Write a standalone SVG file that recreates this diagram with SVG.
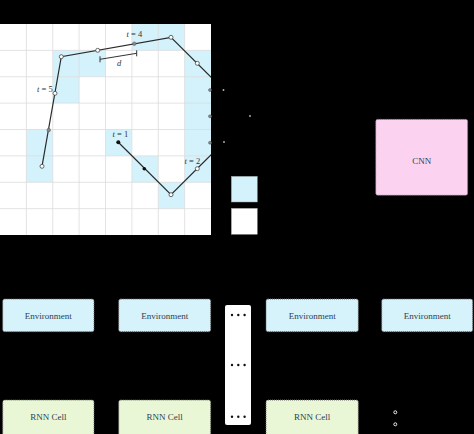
<svg xmlns="http://www.w3.org/2000/svg" width="474" height="434" viewBox="0 0 474 434">
<defs>
<style>
.gl{stroke:#dcdcdc;stroke-width:0.8;fill:none}
.cell{fill:#d4f2fb}
.path{stroke:#2a2a2a;stroke-width:1.2;fill:none}
.open{fill:#fff;stroke:#444;stroke-width:0.8}
.fill{fill:#111}
.gray{fill:#888;stroke:#555;stroke-width:0.5}
.lbl{font-family:"Liberation Serif",serif;font-size:8.5px;fill:#333}
.box{stroke:#666;stroke-width:1;stroke-dasharray:1 1}
.env{fill:#d6f3fc}
.rnn{fill:#e9f7d6}
.btxt{font-family:"Liberation Serif",serif;font-size:9px;fill:#2f3f4f;text-anchor:middle}
</style>
</defs>
<rect width="474" height="434" fill="#000"/>
<g id="grid">
<rect x="0" y="24" width="211" height="211" fill="#fff"/>
<rect class="cell" x="131.875" y="24" width="52.75" height="26.375"/>
<rect class="cell" x="52.75" y="50.375" width="52.75" height="26.375"/>
<rect class="cell" x="52.75" y="76.75" width="26.375" height="26.375"/>
<rect class="cell" x="184.625" y="50.375" width="26.375" height="131.875"/>
<rect class="cell" x="26.375" y="129.5" width="26.375" height="52.75"/>
<rect class="cell" x="105.5" y="129.5" width="26.375" height="26.375"/>
<rect class="cell" x="131.875" y="155.875" width="26.375" height="26.375"/>
<rect class="cell" x="158.25" y="182.25" width="26.375" height="26.375"/>
<path class="gl" d="M26.375 24V235M52.75 24V235M79.125 24V235M105.5 24V235M131.875 24V235M158.25 24V235M184.625 24V235M0 50.375H211M0 76.75H211M0 103.125H211M0 129.5H211M0 155.875H211M0 182.25H211M0 208.625H211"/>
</g>
<g id="trajectory">
<path class="path" d="M118.3 142.3L171 194.7L224 142L224 90L171 37.3L61.3 56.7L42 166.3"/>
<rect x="211" y="60" width="20" height="110" fill="#000"/>
<circle class="fill" cx="118.3" cy="142.3" r="2"/>
<circle class="fill" cx="144.3" cy="168.7" r="1.8"/>
<circle class="open" cx="171" cy="194.7" r="2"/>
<circle class="open" cx="197.3" cy="168.7" r="2"/>
<circle class="open" cx="197.3" cy="63.3" r="2"/>
<circle class="open" cx="171" cy="37.3" r="2"/>
<circle class="gray" cx="134.3" cy="43.7" r="1.8"/>
<circle class="open" cx="97.7" cy="50.3" r="2"/>
<circle class="open" cx="61.3" cy="56.7" r="2"/>
<circle class="open" cx="55" cy="93.3" r="2"/>
<circle class="gray" cx="48.7" cy="130" r="1.8"/>
<circle class="open" cx="42" cy="166.3" r="2"/>
<circle class="gray" cx="210" cy="142.7" r="1.5"/>
<circle class="gray" cx="210" cy="116.3" r="1.5"/>
<circle class="gray" cx="210" cy="90" r="1.5"/>
<circle cx="223.5" cy="90" r="0.9" fill="#bbb"/>
<circle cx="250" cy="116" r="0.9" fill="#bbb"/>
<circle cx="224" cy="142" r="0.9" fill="#bbb"/>
<path d="M100 59.3L136.7 53.3M100 56.3V62.3M136.7 50.3V56.3" stroke="#333" stroke-width="1" fill="none"/>
<text class="lbl" x="117" y="66"><tspan font-style="italic">d</tspan></text>
<text class="lbl" x="126.5" y="37"><tspan font-style="italic">t</tspan> = 4</text>
<text class="lbl" x="37" y="92"><tspan font-style="italic">t</tspan> = 5</text>
<text class="lbl" x="112.5" y="137"><tspan font-style="italic">t</tspan> = 1</text>
<text class="lbl" x="184.5" y="164"><tspan font-style="italic">t</tspan> = 2</text>
</g>
<g id="legend">
<rect x="231.3" y="176.3" width="26" height="25.7" fill="#d4f2fb" stroke="#999" stroke-width="0.5"/>
<rect x="231.3" y="208.3" width="26" height="26" fill="#fff" stroke="#999" stroke-width="0.5"/>
</g>
<g id="cnn">
<rect class="box" x="375.7" y="119.3" width="92" height="76" rx="2" fill="#fbd3f1"/>
<text class="btxt" x="421.7" y="164">CNN</text>
</g>
<g id="env1"><rect class="box env" x="2.7" y="299" width="91.3" height="32.7" rx="2"/><text class="btxt" x="48.3" y="318.5">Environment</text></g>
<g id="env2"><rect class="box env" x="118.7" y="299" width="92" height="32.7" rx="2"/><text class="btxt" x="164.7" y="318.5">Environment</text></g>
<g id="env3"><rect class="box env" x="266" y="299" width="92.3" height="32.7" rx="2"/><text class="btxt" x="312.2" y="318.5">Environment</text></g>
<g id="env4"><rect class="box env" x="381.7" y="299" width="91" height="32.7" rx="2"/><text class="btxt" x="427.2" y="318.5">Environment</text></g>
<g id="rnn1"><rect class="box rnn" x="2.7" y="400" width="91.3" height="36" rx="2"/><text class="btxt" x="48.3" y="419.5">RNN Cell</text></g>
<g id="rnn2"><rect class="box rnn" x="118.7" y="400" width="92" height="36" rx="2"/><text class="btxt" x="164.7" y="419.5">RNN Cell</text></g>
<g id="rnn3"><rect class="box rnn" x="266" y="400" width="92.3" height="36" rx="2"/><text class="btxt" x="312.2" y="419.5">RNN Cell</text></g>
<g id="ellipsis">
<rect x="225" y="305" width="26" height="120" rx="2" fill="#fff"/>
<g fill="#111">
<circle cx="232" cy="315" r="1.2"/><circle cx="238.3" cy="315" r="1.2"/><circle cx="244.6" cy="315" r="1.2"/>
<circle cx="232" cy="365" r="1.2"/><circle cx="238.3" cy="365" r="1.2"/><circle cx="244.6" cy="365" r="1.2"/>
<circle cx="232" cy="416.7" r="1.2"/><circle cx="238.3" cy="416.7" r="1.2"/><circle cx="244.6" cy="416.7" r="1.2"/>
</g>
</g>
<g id="connectors">
<circle cx="395.3" cy="412.3" r="1.5" fill="none" stroke="#eee" stroke-width="1"/>
<circle cx="395.3" cy="424.3" r="1.5" fill="none" stroke="#eee" stroke-width="1"/>
</g>
</svg>
